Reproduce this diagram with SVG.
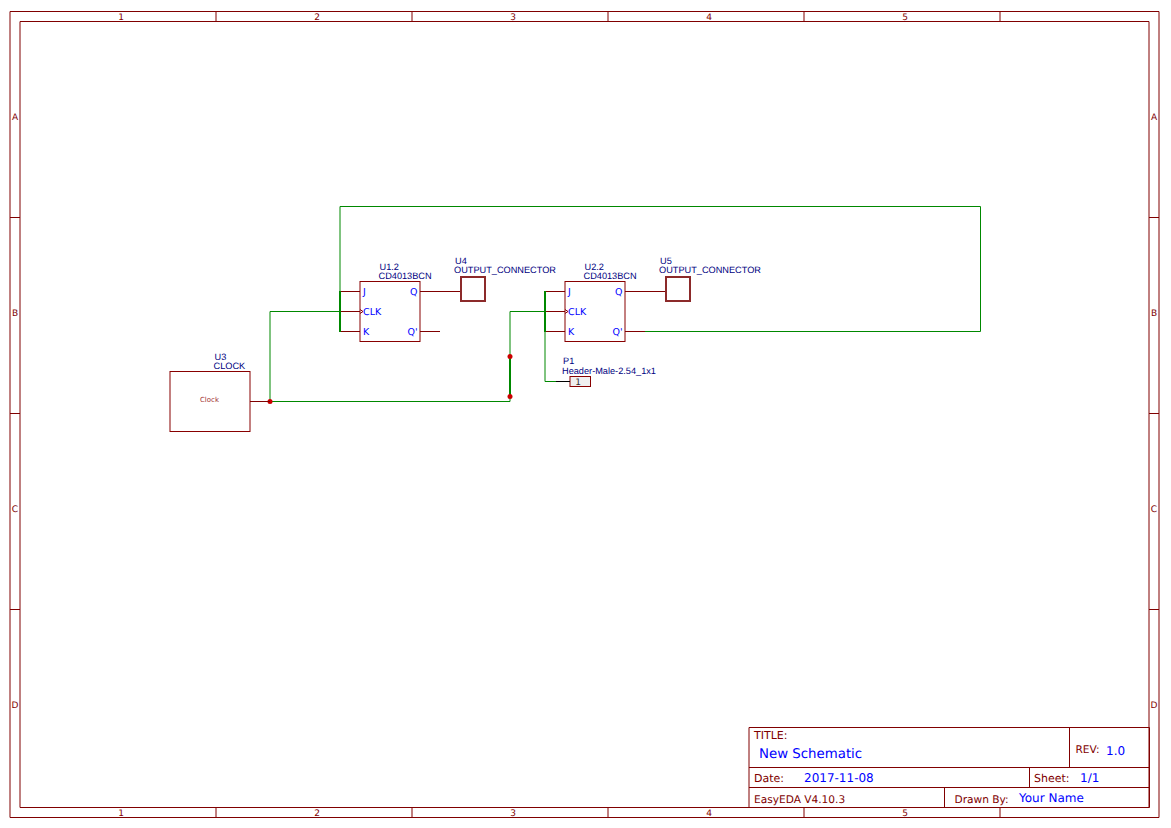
<svg xmlns="http://www.w3.org/2000/svg" width="1171" height="828" viewBox="0 0 1171 828">
<style>
text{font-family:"DejaVu Sans",sans-serif;text-rendering:geometricPrecision}
.f{fill:none;stroke:#800000;stroke-width:1}
.s{fill:none;stroke:#880000;stroke-width:1}
.b{fill:none;stroke:#8c2a2a;stroke-width:2}
.w{fill:none;stroke:#008800;stroke-width:1}
.x{fill:none;stroke:#008800;stroke-width:2}
.p{fill:none;stroke:#800000;stroke-width:1}
.k{fill:none;stroke:#000000;stroke-width:1}
.t{fill:#800000;font-size:9px;text-anchor:middle}
.l{fill:#800000;font-size:11px}
.m{fill:#800000;font-size:10.600px}
.v{fill:#0000ff}
.n{fill:#0000ff;font-size:9.500px}
.d{fill:#000080;font-size:9.200px;font-family:"Liberation Sans",Arial,sans-serif}
.j{fill:#cc0000}
</style>
<g id="frame">
<path class="f" d="M10 11.500H1159V817.500H10Z"/>
<path class="f" d="M20 21.500H1149V807.500H20Z"/>
<path class="f" d="M216 11.500V21.500M412 11.500V21.500M608 11.500V21.500M804 11.500V21.500M1000 11.500V21.500M216 807.500V817.500M412 807.500V817.500M608 807.500V817.500M804 807.500V817.500M1000 807.500V817.500M10 217.500H20M10 413.500H20M10 609.500H20M1149 217.500H1159M1149 413.500H1159M1149 609.500H1159"/>
<g class="t">
<text x="121" y="20">1</text><text x="317" y="20">2</text><text x="513" y="20">3</text><text x="709" y="20">4</text><text x="905" y="20">5</text>
<text x="121" y="816">1</text><text x="317" y="816">2</text><text x="513" y="816">3</text><text x="709" y="816">4</text><text x="905" y="816">5</text>
<text x="15" y="120">A</text><text x="15" y="316">B</text><text x="15" y="512">C</text><text x="15" y="708">D</text>
<text x="1154" y="120">A</text><text x="1154" y="316">B</text><text x="1154" y="512">C</text><text x="1154" y="708">D</text>
</g>
</g>
<g id="title-block">
<path class="f" d="M749 727.500H1149.500V807.500H749ZM749 767.500H1149.500M749 787.500H1149.500M1069.500 727.500V767.500M1029.500 767.500V787.500M944.500 787.500V807.500"/>
<text class="l" x="754" y="739">TITLE:</text>
<text class="v" x="759" y="758" font-size="13.330px">New Schematic</text>
<text class="m" x="1075.500" y="753">REV:</text>
<text class="v" x="1106" y="755" font-size="12px">1.0</text>
<text class="l" x="754" y="782">Date:</text>
<text class="v" x="804" y="782" font-size="12px">2017-11-08</text>
<text class="l" x="1034" y="782">Sheet:</text>
<text class="v" x="1080" y="782" font-size="12px">1/1</text>
<text class="m" x="754" y="802.500">EasyEDA V4.10.3</text>
<text class="m" x="954.500" y="802.500">Drawn By:</text>
<text class="v" x="1019" y="802" font-size="12px">Your Name</text>
</g>
<g id="connectors">
<path class="w" d="M340 331.500V206.500H980.500V331.500H625.500"/>
<path class="w" d="M270 401.500V311.500H360M270 401.500H510V311.500H565"/>
<path class="w" d="M545 381.500V291.500"/>
<path class="x" d="M340 291V332M545 291V332M510 356.500V396.500"/>
<path class="w" d="M545 381.500H556"/>
<circle class="j" cx="270" cy="401.500" r="2.500"/>
<circle class="j" cx="510" cy="356.500" r="2.500"/>
<circle class="j" cx="510" cy="396.500" r="2.500"/>
</g>
<g id="U3">
<rect class="s" x="170" y="371.500" width="80" height="60"/>
<path class="p" d="M250 401.500H270"/>
<text x="209.500" y="401.500" font-size="7px" fill="#a33333" text-anchor="middle">Clock</text>
<text class="d" x="214.500" y="360">U3</text>
<text class="d" x="213.500" y="369">CLOCK</text>
</g>
<g id="U1.2">
<rect class="s" x="360" y="281.500" width="60" height="60"/>
<path class="p" d="M341 291.500H360M341 311.500H360M341 331.500H360M420 291.500H440M420 331.500H440"/>
<path class="s" d="M360 309.500L363 311.500L360 313.500"/>
<text class="n" x="363" y="295">J</text><text class="n" x="363" y="315">CLK</text><text class="n" x="363" y="335">K</text>
<text class="n" x="417.500" y="295" text-anchor="end">Q</text><text class="n" x="417.500" y="335" text-anchor="end">Q'</text>
<text class="d" x="379.500" y="270">U1.2</text>
<text class="d" x="378.500" y="278.500">CD4013BCN</text>
</g>
<g id="U4">
<rect class="b" x="461" y="277" width="24" height="24"/>
<path class="p" d="M440 291.500H460"/>
<text class="d" x="455" y="263.500">U4</text>
<text class="d" x="454" y="272.800">OUTPUT_CONNECTOR</text>
</g>
<g id="U2.2">
<rect class="s" x="565" y="281.500" width="60" height="60"/>
<path class="p" d="M546 291.500H565M546 311.500H565M546 331.500H565M625 291.500H645M625 331.500H645"/>
<path class="s" d="M565 309.500L568 311.500L565 313.500"/>
<text class="n" x="568" y="295">J</text><text class="n" x="568" y="315">CLK</text><text class="n" x="568" y="335">K</text>
<text class="n" x="622.500" y="295" text-anchor="end">Q</text><text class="n" x="622.500" y="335" text-anchor="end">Q'</text>
<text class="d" x="584.500" y="270">U2.2</text>
<text class="d" x="583.500" y="278.500">CD4013BCN</text>
</g>
<g id="U5">
<rect class="b" x="666" y="277" width="24" height="24"/>
<path class="p" d="M645 291.500H665"/>
<text class="d" x="660" y="263.500">U5</text>
<text class="d" x="659" y="272.800">OUTPUT_CONNECTOR</text>
</g>
<g id="P1">
<rect x="570" y="376.500" width="20.500" height="10" fill="#f0f0f0" stroke="#880000"/>
<path class="k" d="M556 381.500H570"/>
<text x="578" y="385" font-size="9px" fill="#333333" text-anchor="middle">1</text>
<text class="d" x="563" y="364">P1</text>
<text class="d" x="562" y="373.500">Header-Male-2.54_1x1</text>
</g>
</svg>
